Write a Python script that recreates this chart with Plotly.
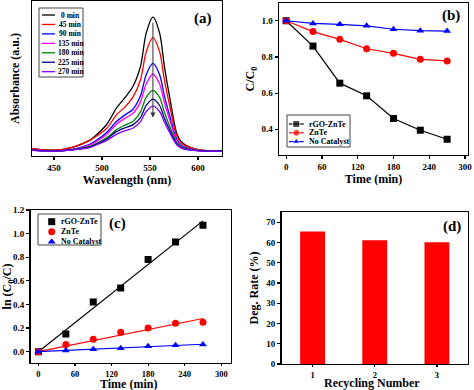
import numpy as np
import plotly.graph_objects as go

# ---------- Panel (a): absorbance spectra ----------
wavelength = [425, 450, 470, 487, 494, 505, 515, 524, 532, 540, 546, 553, 560, 565, 571, 578, 584, 600, 625]
spec_labels = ["0 min", "45 min", "90 min", "135 min", "180 min", "225 min", "270 min"]
abs_0 = [0.02, 0.007, 0.03, 0.08, 0.12, 0.20, 0.32, 0.40, 0.48, 0.63, 0.88, 1.00, 0.88, 0.63, 0.38, 0.13, 0.06, 0.01, 0.0]
abs_45 = [0.02, 0.007, 0.03, 0.08, 0.11, 0.17, 0.27, 0.33, 0.40, 0.53, 0.74, 0.846, 0.74, 0.53, 0.32, 0.11, 0.05, 0.01, 0.0]
abs_90 = [0.01, 0.0, 0.015, 0.05, 0.08, 0.14, 0.22, 0.27, 0.31, 0.41, 0.57, 0.654, 0.57, 0.41, 0.25, 0.085, 0.035, 0.005, 0.0]
abs_135 = [0.01, 0.0, 0.012, 0.045, 0.07, 0.125, 0.20, 0.246, 0.28, 0.365, 0.50, 0.575, 0.50, 0.36, 0.22, 0.075, 0.03, 0.005, 0.0]
abs_180 = [0.008, 0.0, 0.01, 0.035, 0.055, 0.10, 0.16, 0.194, 0.22, 0.29, 0.40, 0.453, 0.40, 0.29, 0.175, 0.06, 0.025, 0.004, 0.0]
abs_225 = [0.008, 0.0, 0.01, 0.03, 0.05, 0.09, 0.145, 0.174, 0.195, 0.25, 0.34, 0.388, 0.34, 0.245, 0.15, 0.05, 0.02, 0.003, 0.0]
abs_270 = [0.006, -0.003, 0.008, 0.025, 0.045, 0.08, 0.125, 0.151, 0.17, 0.22, 0.295, 0.336, 0.295, 0.215, 0.13, 0.045, 0.018, 0.002, -0.002]
spectra = [abs_0, abs_45, abs_90, abs_135, abs_180, abs_225, abs_270]
spec_colors = ["#000000", "#ff0000", "#0000ff", "#ff00ff", "#008000", "#000080", "#8000ff"]

# ---------- Panel (b) / (c): kinetics ----------
time_min = [0, 45, 90, 135, 180, 225, 270]
series_names = ["rGO-ZnTe", "ZnTe", "No Catalyst"]
cc0_rgo = [1.0, 0.86, 0.655, 0.585, 0.46, 0.395, 0.345]
cc0_znte = [1.0, 0.94, 0.897, 0.845, 0.82, 0.787, 0.778]
cc0_none = [1.0, 0.985, 0.98, 0.972, 0.953, 0.945, 0.943]
ln_rgo = [0.0, 0.15, 0.42, 0.54, 0.78, 0.93, 1.07]
ln_znte = [0.0, 0.06, 0.105, 0.165, 0.20, 0.24, 0.25]
ln_none = [0.0, 0.01, 0.02, 0.03, 0.045, 0.055, 0.06]

# ---------- Panel (d): recycling ----------
cycle = [1, 2, 3]
deg_rate = [65.5, 61.2, 60.1]

FONT = "Liberation Serif"
ser_colors = ["#000000", "#ff0000", "#0000ff"]
ser_symbols = ["square", "circle", "triangle-up"]
W, H = 474, 390

fig = go.Figure()

# (a)
for lab, ys, col in zip(spec_labels, spectra, spec_colors):
    fig.add_trace(go.Scatter(x=wavelength, y=ys, mode="lines", name=lab, showlegend=False,
                             line=dict(color=col, width=1.3, shape="spline", smoothing=0.8),
                             xaxis="x", yaxis="y"))

# (b)
for nm, ys, col, sym in zip(series_names, [cc0_rgo, cc0_znte, cc0_none], ser_colors, ser_symbols):
    fig.add_trace(go.Scatter(x=time_min, y=ys, mode="lines+markers", name=nm, showlegend=False,
                             line=dict(color=col, width=1.2),
                             marker=dict(symbol=sym, size=7, color=col),
                             xaxis="x2", yaxis="y2"))

# (c)
t = np.array(time_min, dtype=float)
for nm, ys, col, sym in zip(series_names, [ln_rgo, ln_znte, ln_none], ser_colors, ser_symbols):
    y = np.array(ys)
    k = float(np.sum(t * y) / np.sum(t * t))
    fig.add_trace(go.Scatter(x=[0, 270], y=[0, k * 270], mode="lines", showlegend=False,
                             line=dict(color=col, width=1.2), xaxis="x3", yaxis="y3"))
    fig.add_trace(go.Scatter(x=time_min, y=ys, mode="markers", name=nm, showlegend=False,
                             marker=dict(symbol=sym, size=7, color=col),
                             xaxis="x3", yaxis="y3"))

# (d)
fig.add_trace(go.Bar(x=cycle, y=deg_rate, width=0.4, marker=dict(color="#ff0000", line=dict(width=0)),
                     showlegend=False, xaxis="x4", yaxis="y4"))

# ---------- hand-drawn legends on a pixel overlay axis (x5/y5) ----------
leg_font_a = dict(family=FONT, size=7.5, color="black", weight="bold")
leg_font = dict(family=FONT, size=8, color="black", weight="bold")
box_style = dict(type="rect", xref="x5", yref="y5", line=dict(color="#444444", width=1),
                 fillcolor="white", layer="below")

# legend (a)
fig.add_shape(x0=39, x1=83, y0=8, y1=77, **box_style)
for i, (lab, col) in enumerate(zip(spec_labels, spec_colors)):
    yy = 15 + i * 9.45
    fig.add_trace(go.Scatter(x=[42, 55], y=[yy, yy], mode="lines", showlegend=False,
                             line=dict(color=col, width=1.3), xaxis="x5", yaxis="y5", hoverinfo="skip"))
    fig.add_annotation(text=lab, x=70.5, y=yy, xref="x5", yref="y5", xanchor="center", yanchor="middle",
                       showarrow=False, font=leg_font_a)

# legend (b)
fig.add_shape(x0=287, x1=350, y0=115, y1=147, **box_style)
for i, (nm, col, sym) in enumerate(zip(series_names, ser_colors, ser_symbols)):
    yy = 124 + i * 8.8
    fig.add_trace(go.Scatter(x=[289, 296.3, 303.7], y=[yy, yy, yy], mode="lines+markers", showlegend=False,
                             line=dict(color=col, width=1.2), marker=dict(symbol=sym, size=[0, 7, 0], color=col),
                             xaxis="x5", yaxis="y5", hoverinfo="skip"))
    fig.add_annotation(text=nm, x=307, y=yy, xref="x5", yref="y5", xanchor="left", yanchor="middle",
                       showarrow=False, font=leg_font)

# legend (c)
fig.add_shape(x0=38, x1=101, y0=214, y1=245, **box_style)
for i, (nm, col, sym) in enumerate(zip(series_names, ser_colors, ser_symbols)):
    yy = 221.7 + i * 10
    fig.add_trace(go.Scatter(x=[51.7], y=[yy], mode="markers", showlegend=False,
                             marker=dict(symbol=sym, size=7, color=col),
                             xaxis="x5", yaxis="y5", hoverinfo="skip"))
    fig.add_annotation(text=nm, x=58.5, y=yy, xref="x5", yref="y5", xanchor="left", yanchor="middle",
                       showarrow=False, font=leg_font)

def dx(p): return p / W
def dy(p): return 1 - p / H

tickfont = dict(family=FONT, size=9, color="black", weight="bold")
tickfont_small = dict(family=FONT, size=8.5, color="black", weight="bold")
titlefont = dict(family=FONT, size=12, color="black", weight="bold")
axcommon = dict(showline=True, linecolor="black", linewidth=1.4, mirror=True, showgrid=False,
                zeroline=False, ticks="outside", ticklen=3, tickwidth=1.2, tickcolor="black",
                tickfont=tickfont, title_font=titlefont, automargin=False)

fig.update_layout(
    template="none",
    width=W, height=H, margin=dict(l=0, r=0, t=0, b=0, pad=0),
    plot_bgcolor="rgba(0,0,0,0)", paper_bgcolor="white",
    font=dict(family=FONT, color="black"),
    showlegend=False,
    xaxis=dict(axcommon, domain=[dx(32), dx(222)], anchor="y", range=[427, 625],
               tickvals=[450, 500, 550, 600], title=dict(text="Wavelength (nm)", standoff=2)),
    yaxis=dict(axcommon, domain=[dy(156), dy(1)], anchor="x", range=[-0.037, 1.12],
               showticklabels=False, ticks="", title=dict(text="Absorbance (a.u.)", standoff=8)),
    xaxis2=dict(axcommon, domain=[dx(279), dx(468)], anchor="y2", range=[-12, 305],
                tickvals=[0, 60, 120, 180, 240, 300], title=dict(text="Time (min)", standoff=2)),
    yaxis2=dict(axcommon, domain=[dy(155), dy(3)], anchor="x2", range=[0.258, 1.098],
                tickvals=[0.4, 0.6, 0.8, 1.0], tickformat=".1f",
                title=dict(text="C/C<sub>0</sub>", standoff=4)),
    xaxis3=dict(axcommon, domain=[dx(30.5), dx(231)], anchor="y3", range=[-13, 316], ticklen=2,
                tickfont=tickfont_small, tickvals=[0, 60, 120, 180, 240, 300]),
    yaxis3=dict(axcommon, domain=[dy(363), dy(210)], anchor="x3", range=[-0.096, 1.2],
                tickvals=[0, 0.2, 0.4, 0.6, 0.8, 1.0, 1.2], tickformat=".1f",
                title=dict(text="ln (C<sub>0</sub>/C)", standoff=1)),
    xaxis4=dict(axcommon, domain=[dx(281.5), dx(468)], anchor="y4", range=[0.5, 3.5], ticklen=2,
                tickfont=tickfont_small, tickvals=[1, 2, 3]),
    yaxis4=dict(axcommon, domain=[dy(364), dy(212)], anchor="x4", range=[0, 75.1],
                tickvals=[0, 10, 20, 30, 40, 50, 60, 70], title=dict(text="Deg. Rate (%)", standoff=5)),
    xaxis5=dict(domain=[0, 1], range=[0, W], visible=False, anchor="y5", fixedrange=True),
    yaxis5=dict(domain=[0, 1], range=[H, 0], visible=False, anchor="x5", fixedrange=True),
)

# bottom x-axis titles of (c) and (d), placed tightly as in the reference
fig.add_annotation(text="Time (min)", xref="x5", yref="y5", x=128, y=383.5, xanchor="center",
                   yanchor="middle", showarrow=False, font=titlefont, borderpad=0)
fig.add_annotation(text="Recycling Number", xref="x5", yref="y5", x=372, y=382.5, xanchor="center",
                   yanchor="middle", showarrow=False, font=titlefont, borderpad=0)

panel_font = dict(family=FONT, size=15, color="black", weight="bold")
for lbl, cx, cy in [("(a)", 203, 18), ("(b)", 451, 15), ("(c)", 117, 223), ("(d)", 452, 226)]:
    fig.add_annotation(text=lbl, xref="x5", yref="y5", x=cx, y=cy, xanchor="center", yanchor="middle",
                       showarrow=False, font=panel_font)

# arrow in (a)
fig.add_annotation(x=553, y=0.25, ax=553, ay=0.97, xref="x", yref="y", axref="x", ayref="y",
                   showarrow=True, arrowhead=2, arrowsize=1, arrowwidth=1, arrowcolor="#333333", text="")

fig.write_html("out.html", config={"displayModeBar": False, "staticPlot": True},
               post_script="document.body.style.margin='0';document.body.style.padding='0';"
                           "document.documentElement.style.overflow='hidden';")
